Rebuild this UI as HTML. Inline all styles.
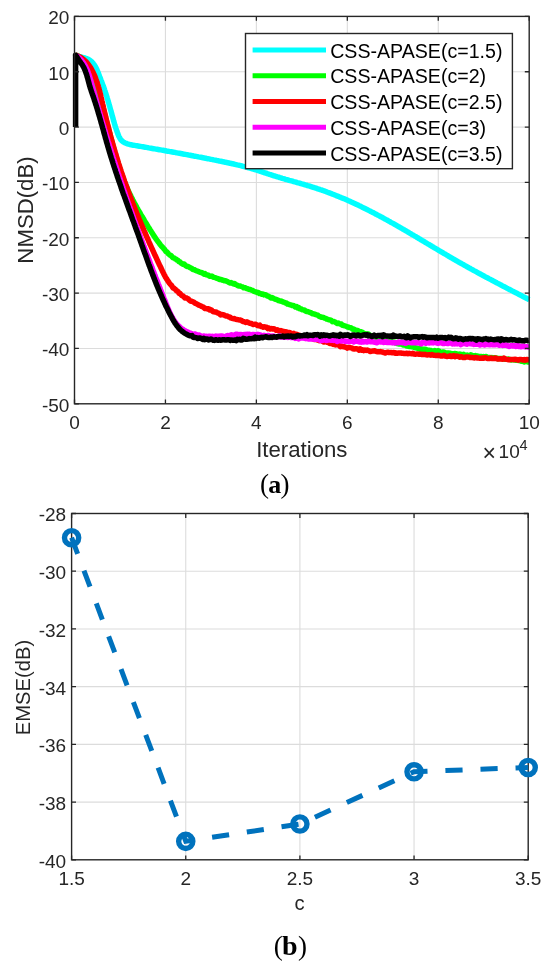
<!DOCTYPE html>
<html><head><meta charset="utf-8"><title>NMSD and EMSE plots</title>
<style>
html,body{margin:0;padding:0;background:#fff;width:550px;height:968px;overflow:hidden}
svg{display:block}
text{font-family:"Liberation Sans",Arial,sans-serif;fill:#262626}
.tk{font-size:19px}
.sup{font-size:14.5px}
.lbl{font-size:22.2px}
.lblb{font-size:20.2px}
.lg{font-size:19.6px;fill:#000}
.cap{font-family:"Liberation Serif","DejaVu Serif",serif;font-size:26px;fill:#000}
</style></head><body>
<svg width='550' height='968' viewBox='0 0 550 968'><defs><clipPath id='clipa'><rect x='74.5' y='16.4' width='454.70' height='387.40'/></clipPath></defs><g stroke="#dcdcdc" stroke-width="1.1"><line x1="165.44" y1="16.4" x2="165.44" y2="403.8"/><line x1="256.38" y1="16.4" x2="256.38" y2="403.8"/><line x1="347.32" y1="16.4" x2="347.32" y2="403.8"/><line x1="438.26" y1="16.4" x2="438.26" y2="403.8"/><line x1="74.5" y1="71.74" x2="529.2" y2="71.74"/><line x1="74.5" y1="127.09" x2="529.2" y2="127.09"/><line x1="74.5" y1="182.43" x2="529.2" y2="182.43"/><line x1="74.5" y1="237.77" x2="529.2" y2="237.77"/><line x1="74.5" y1="293.11" x2="529.2" y2="293.11"/><line x1="74.5" y1="348.46" x2="529.2" y2="348.46"/></g><g fill="none" stroke-width="5.5" stroke-linejoin="round" stroke-linecap="butt"><path d="M75.5 55.2L76.6 55.6L77.8 56.0L78.9 56.4L80.1 56.7L81.2 57.0L82.4 57.3L83.6 57.6L84.7 57.9L85.8 58.3L87.0 58.7L88.1 59.2L89.1 59.8L90.1 60.5L91.1 61.2L91.9 62.0L92.8 62.9L93.5 63.9L94.2 64.8L94.9 65.8L95.5 66.9L96.0 67.9L96.6 69.0L97.1 70.1L97.5 71.2L98.0 72.3L98.4 73.4L98.9 74.6L99.3 75.7L99.7 76.8L100.2 77.9L100.6 79.0L101.0 80.2L101.5 81.3L101.9 82.4L102.3 83.5L102.7 84.7L103.2 85.8L103.6 86.9L104.0 88.0L104.4 89.2L104.7 90.3L105.1 91.5L105.5 92.6L105.9 93.7L106.2 94.9L106.6 96.0L107.0 97.2L107.3 98.3L107.7 99.5L108.0 100.6L108.3 101.8L108.7 102.9L109.0 104.1L109.3 105.2L109.7 106.4L110.0 107.6L110.3 108.7L110.6 109.9L111.0 111.0L111.3 112.2L111.6 113.3L111.9 114.5L112.2 115.7L112.6 116.8L112.9 118.0L113.2 119.1L113.5 120.3L113.8 121.4L114.2 122.6L114.5 123.8L114.8 124.9L115.2 126.1L115.5 127.2L115.9 128.4L116.3 129.5L116.7 130.6L117.1 131.8L117.5 132.9L117.9 134.0L118.4 135.1L118.8 136.2L119.4 137.3L120.0 138.4L120.6 139.4L121.4 140.3L122.2 141.1L123.2 141.9L124.2 142.5L125.3 143.0L126.4 143.4L127.5 143.8L128.7 144.2L129.9 144.5L131.0 144.7L132.2 145.0L133.4 145.2L134.6 145.4L135.7 145.6L136.9 145.8L138.1 146.0L139.3 146.2L140.5 146.4L141.7 146.6L142.9 146.8L144.0 147.0L145.2 147.2L146.4 147.4L147.6 147.6L148.8 147.9L150.0 148.1L151.1 148.3L152.3 148.5L153.5 148.7L154.7 148.9L155.9 149.1L157.1 149.3L158.2 149.5L159.4 149.7L160.6 149.9L161.8 150.1L163.0 150.3L164.2 150.5L165.3 150.7L166.5 151.0L167.7 151.2L168.9 151.4L170.1 151.6L171.3 151.8L172.4 152.0L173.6 152.2L174.8 152.4L176.0 152.7L177.2 152.9L178.3 153.1L179.5 153.3L180.7 153.5L181.9 153.7L183.1 154.0L184.3 154.2L185.4 154.4L186.6 154.6L187.8 154.8L189.0 155.1L190.2 155.3L191.3 155.5L192.5 155.7L193.7 156.0L194.9 156.2L196.1 156.4L197.2 156.6L198.4 156.9L199.6 157.1L200.8 157.3L202.0 157.5L203.1 157.8L204.3 158.0L205.5 158.2L206.7 158.5L207.9 158.7L209.0 158.9L210.2 159.2L211.4 159.4L212.6 159.6L213.7 159.9L214.9 160.1L216.1 160.3L217.3 160.6L218.5 160.8L219.6 161.1L220.8 161.3L222.0 161.5L223.2 161.8L224.3 162.0L225.5 162.3L226.7 162.5L227.9 162.8L229.0 163.0L230.2 163.3L231.4 163.5L232.6 163.8L233.7 164.0L234.9 164.3L236.1 164.6L237.2 164.9L238.4 165.1L239.6 165.4L240.8 165.7L241.9 166.0L243.1 166.3L244.2 166.6L245.4 166.9L246.6 167.2L247.7 167.5L248.9 167.8L250.0 168.1L251.2 168.5L252.4 168.8L253.5 169.2L254.7 169.5L255.8 169.9L257.0 170.2L258.1 170.6L259.2 170.9L260.4 171.3L261.5 171.7L262.7 172.1L263.8 172.5L264.9 172.8L266.1 173.2L267.2 173.6L268.4 174.0L269.5 174.4L270.6 174.7L271.8 175.1L272.9 175.5L274.1 175.8L275.2 176.2L276.4 176.5L277.5 176.9L278.7 177.2L279.8 177.6L281.0 177.9L282.1 178.3L283.3 178.6L284.4 178.9L285.6 179.3L286.7 179.6L287.9 179.9L289.0 180.3L290.2 180.6L291.4 180.9L292.5 181.2L293.7 181.6L294.8 181.9L296.0 182.2L297.1 182.6L298.3 182.9L299.5 183.2L300.6 183.5L301.8 183.9L302.9 184.2L304.1 184.5L305.2 184.9L306.4 185.2L307.5 185.6L308.7 185.9L309.8 186.2L311.0 186.6L312.1 187.0L313.3 187.3L314.4 187.7L315.6 188.0L316.7 188.4L317.8 188.8L319.0 189.2L320.1 189.6L321.3 189.9L322.4 190.3L323.5 190.7L324.7 191.1L325.8 191.5L326.9 192.0L328.0 192.4L329.2 192.8L330.3 193.2L331.4 193.7L332.5 194.1L333.7 194.5L334.8 195.0L335.9 195.4L337.0 195.9L338.1 196.3L339.2 196.8L340.3 197.2L341.4 197.7L342.5 198.2L343.7 198.6L344.8 199.1L345.9 199.6L347.0 200.1L348.1 200.6L349.2 201.0L350.3 201.5L351.3 202.0L352.4 202.5L353.5 203.0L354.6 203.5L355.7 204.0L356.8 204.6L357.9 205.1L359.0 205.6L360.0 206.1L361.1 206.6L362.2 207.2L363.3 207.7L364.4 208.2L365.4 208.7L366.5 209.3L367.6 209.8L368.7 210.4L369.7 210.9L370.8 211.5L371.9 212.0L372.9 212.6L374.0 213.1L375.1 213.7L376.1 214.2L377.2 214.8L378.3 215.4L379.3 215.9L380.4 216.5L381.4 217.1L382.5 217.6L383.5 218.2L384.6 218.8L385.7 219.4L386.7 219.9L387.8 220.5L388.8 221.1L389.9 221.7L390.9 222.3L392.0 222.9L393.0 223.4L394.0 224.0L395.1 224.6L396.1 225.2L397.2 225.8L398.2 226.4L399.3 227.0L400.3 227.6L401.3 228.2L402.4 228.8L403.4 229.4L404.5 230.0L405.5 230.6L406.5 231.2L407.6 231.8L408.6 232.4L409.6 233.1L410.7 233.7L411.7 234.3L412.8 234.9L413.8 235.5L414.8 236.1L415.9 236.7L416.9 237.3L417.9 237.9L419.0 238.6L420.0 239.2L421.0 239.8L422.0 240.4L423.1 241.0L424.1 241.6L425.1 242.3L426.2 242.9L427.2 243.5L428.2 244.1L429.3 244.7L430.3 245.3L431.3 245.9L432.4 246.6L433.4 247.2L434.4 247.8L435.5 248.4L436.5 249.0L437.5 249.6L438.6 250.3L439.6 250.9L440.6 251.5L441.7 252.1L442.7 252.7L443.7 253.3L444.8 253.9L445.8 254.5L446.8 255.1L447.9 255.7L448.9 256.4L449.9 257.0L451.0 257.6L452.0 258.2L453.1 258.8L454.1 259.4L455.1 260.0L456.2 260.6L457.2 261.2L458.3 261.8L459.3 262.4L460.4 263.0L461.4 263.5L462.4 264.1L463.5 264.7L464.5 265.3L465.6 265.9L466.6 266.5L467.7 267.1L468.7 267.7L469.8 268.2L470.8 268.8L471.9 269.4L472.9 270.0L474.0 270.6L475.0 271.1L476.1 271.7L477.2 272.3L478.2 272.9L479.3 273.5L480.3 274.0L481.4 274.6L482.4 275.2L483.5 275.7L484.5 276.3L485.6 276.9L486.7 277.4L487.7 278.0L488.8 278.6L489.8 279.1L490.9 279.7L492.0 280.3L493.0 280.8L494.1 281.4L495.1 282.0L496.2 282.5L497.3 283.1L498.3 283.6L499.4 284.2L500.5 284.8L501.5 285.3L502.6 285.9L503.7 286.4L504.7 287.0L505.8 287.5L506.8 288.1L507.9 288.7L509.0 289.2L510.0 289.8L511.1 290.3L512.2 290.9L513.2 291.4L514.3 292.0L515.4 292.5L516.4 293.1L517.5 293.6L518.6 294.2L519.6 294.7L520.7 295.3L521.8 295.8L522.8 296.4L523.9 296.9L525.0 297.5L526.0 298.0L527.1 298.6L528.2 299.2L529.3 299.7" stroke="#00ffff"/><path d="M75.5 55.2L76.7 55.5L77.8 55.9L78.9 56.5L79.9 57.1L80.9 57.8L81.8 58.5L82.7 59.3L83.6 60.1L84.5 60.9L85.4 61.7L86.2 62.6L87.1 63.5L87.8 64.4L88.5 65.4L89.2 66.4L89.7 67.4L90.3 68.5L90.7 69.6L91.2 70.8L91.6 71.9L91.9 73.0L92.3 74.2L92.7 75.3L93.0 76.5L93.4 77.6L93.7 78.8L94.1 79.9L94.4 81.1L94.8 82.2L95.2 83.4L95.5 84.5L95.9 85.6L96.3 86.8L96.6 87.9L97.0 89.1L97.4 90.2L97.7 91.4L98.1 92.5L98.5 93.7L98.8 94.8L99.2 96.0L99.6 97.1L99.9 98.2L100.3 99.4L100.6 100.5L101.0 101.7L101.4 102.8L101.7 104.0L102.0 105.1L102.4 106.3L102.7 107.4L103.1 108.6L103.4 109.8L103.7 110.9L104.1 112.1L104.4 113.2L104.7 114.4L105.0 115.5L105.3 116.7L105.7 117.9L106.0 119.0L106.3 120.2L106.6 121.3L106.9 122.5L107.2 123.7L107.5 124.8L107.8 126.0L108.1 127.2L108.4 128.3L108.7 129.5L109.0 130.6L109.3 131.8L109.7 133.0L110.0 134.1L110.3 135.3L110.6 136.5L110.9 137.6L111.2 138.8L111.5 139.9L111.8 141.1L112.1 142.3L112.4 143.4L112.7 144.6L113.0 145.8L113.3 146.9L113.7 148.1L114.0 149.2L114.3 150.4L114.6 151.5L114.9 152.7L115.3 153.9L115.6 155.0L115.9 156.2L116.3 157.3L116.6 158.5L116.9 159.6L117.3 160.8L117.6 161.9L118.0 163.1L118.4 164.2L118.7 165.4L119.1 166.5L119.5 167.7L119.8 168.8L120.2 169.9L120.6 171.1L121.0 172.2L121.4 173.4L121.8 174.5L122.2 175.6L122.6 176.8L123.0 177.9L123.4 179.0L123.9 180.1L124.3 181.3L124.7 182.4L125.2 183.5L125.6 184.6L126.1 185.7L126.6 186.8L127.1 187.9L127.5 189.0L128.0 190.1L128.5 191.2L129.0 192.3L129.5 193.4L130.1 194.5L130.6 195.6L131.1 196.6L131.7 197.7L132.2 198.8L132.7 199.8L133.3 200.9L133.9 202.0L134.4 203.0L135.0 204.1L135.6 205.2L136.2 206.2L136.7 207.3L137.3 208.3L137.9 209.4L138.5 210.4L139.1 211.4L139.7 212.5L140.3 213.5L140.9 214.6L141.5 215.6L142.1 216.6L142.8 217.7L143.4 218.7L144.0 219.7L144.6 220.8L145.2 221.8L145.8 222.8L146.5 223.8L147.1 224.9L147.7 225.9L148.3 226.9L149.0 228.0L149.6 229.0L150.2 230.0L150.9 231.0L151.5 232.0L152.2 233.1L152.8 234.1L153.5 235.1L154.1 236.1L154.8 237.1L155.5 238.1L156.1 239.1L156.8 240.0L157.5 241.0L158.3 242.0L159.0 242.9L159.7 243.9L160.4 244.9L161.2 245.9L162.0 246.6L162.7 247.4L163.5 248.4L164.3 249.1L165.1 250.3L166.0 251.6L166.8 251.9L167.7 252.7L168.5 253.9L169.4 254.6L170.3 255.3L171.3 255.8L172.2 256.8L173.1 257.8L174.1 257.9L175.1 258.9L176.0 259.2L177.0 260.0L178.0 260.5L179.0 261.7L180.0 262.0L181.1 263.1L182.1 263.7L183.1 264.2L184.2 264.1L185.2 265.2L186.3 266.0L187.4 266.6L188.4 266.6L189.5 267.4L190.6 267.8L191.7 268.4L192.8 269.4L193.9 269.4L195.0 270.1L196.1 270.8L197.2 270.9L198.3 271.4L199.4 272.0L200.5 272.4L201.7 272.4L202.8 273.3L203.9 274.1L205.0 273.6L206.2 274.8L207.3 274.9L208.4 275.1L209.6 276.3L210.7 276.3L211.8 276.1L213.0 276.9L214.1 277.4L215.3 277.6L216.4 278.3L217.5 278.4L218.7 279.0L219.8 279.6L221.0 279.4L222.1 280.0L223.2 280.2L224.4 280.8L225.5 280.7L226.7 281.3L227.8 281.8L228.9 282.5L230.1 283.0L231.2 282.6L232.3 283.2L233.5 284.0L234.6 283.6L235.7 284.5L236.9 285.0L238.0 285.8L239.2 286.0L240.3 286.1L241.4 286.5L242.6 286.9L243.7 287.8L244.8 287.7L245.9 288.1L247.1 288.7L248.2 289.0L249.3 289.4L250.5 289.5L251.6 290.2L252.7 290.5L253.9 291.4L255.0 291.7L256.1 291.9L257.2 292.5L258.4 292.6L259.5 293.5L260.6 293.6L261.8 294.2L262.9 294.0L264.0 294.9L265.1 294.7L266.3 295.1L267.4 296.0L268.5 296.2L269.6 297.0L270.8 298.0L271.9 297.5L273.0 298.0L274.1 298.7L275.3 299.2L276.4 299.4L277.5 299.9L278.6 300.6L279.7 300.9L280.9 300.9L282.0 301.6L283.1 302.1L284.2 302.2L285.4 303.0L286.5 303.1L287.6 304.1L288.7 304.3L289.8 304.7L291.0 304.9L292.1 305.5L293.2 305.4L294.3 306.1L295.4 307.0L296.6 306.6L297.7 308.0L298.8 307.6L299.9 308.8L301.0 308.8L302.2 309.7L303.3 309.9L304.4 309.9L305.5 311.1L306.6 311.6L307.8 311.6L308.9 312.0L310.0 312.5L311.1 312.7L312.2 313.7L313.4 313.7L314.5 314.2L315.6 314.5L316.7 314.9L317.8 315.2L319.0 316.4L320.1 316.4L321.2 317.2L322.3 317.3L323.5 317.5L324.6 318.1L325.7 318.4L326.8 319.1L327.9 319.4L329.1 319.8L330.2 319.9L331.3 320.5L332.4 321.7L333.5 321.4L334.7 321.8L335.8 322.6L336.9 323.4L338.0 322.9L339.2 323.7L340.3 324.0L341.4 324.1L342.5 325.3L343.7 325.5L344.8 325.9L345.9 326.1L347.0 326.9L348.2 327.0L349.3 327.6L350.4 327.7L351.5 328.1L352.7 329.3L353.8 329.1L354.9 329.8L356.0 330.1L357.2 330.4L358.3 330.8L359.4 331.5L360.6 331.7L361.7 332.1L362.8 332.6L364.0 333.3L365.1 333.6L366.2 333.9L367.4 334.0L368.5 334.1L369.6 335.2L370.8 335.6L371.9 335.7L373.1 336.3L374.2 336.7L375.3 337.1L376.5 337.5L377.6 337.5L378.8 338.4L379.9 338.0L381.1 339.0L382.2 339.2L383.4 339.7L384.5 340.3L385.6 340.6L386.8 340.1L388.0 340.3L389.1 341.4L390.3 341.2L391.4 341.8L392.6 342.4L393.7 342.0L394.9 342.2L396.0 343.2L397.2 343.5L398.4 343.7L399.5 344.1L400.7 344.1L401.9 344.2L403.0 344.9L404.2 345.0L405.4 345.0L406.5 346.0L407.7 346.1L408.9 346.5L410.0 346.3L411.2 346.7L412.4 346.8L413.6 347.1L414.7 347.7L415.9 347.7L417.1 348.2L418.3 348.5L419.5 349.2L420.6 348.4L421.8 349.3L423.0 349.2L424.2 349.5L425.4 349.2L426.5 349.7L427.7 350.3L428.9 350.2L430.1 350.5L431.3 350.6L432.5 351.2L433.7 351.0L434.9 350.5L436.0 351.2L437.2 351.0L438.4 350.7L439.6 351.7L440.8 352.5L442.0 352.2L443.2 352.0L444.4 352.2L445.6 353.0L446.8 352.9L448.0 353.0L449.2 353.1L450.3 353.3L451.5 353.7L452.7 353.7L453.9 353.8L455.1 353.5L456.3 354.1L457.5 353.9L458.7 354.6L459.9 354.0L461.1 354.4L462.3 354.6L463.5 354.3L464.7 355.4L465.9 355.4L467.1 355.0L468.3 355.5L469.5 355.5L470.7 354.7L471.9 355.7L473.1 355.7L474.3 355.9L475.4 355.6L476.6 356.0L477.8 356.1L479.0 356.7L480.2 356.5L481.4 356.5L482.6 357.1L483.8 356.6L485.0 356.8L486.2 356.5L487.4 357.6L488.6 357.5L489.8 357.6L491.0 357.7L492.2 357.6L493.4 357.8L494.6 357.8L495.8 357.9L497.0 358.1L498.2 358.7L499.4 358.5L500.6 358.5L501.8 358.4L503.0 358.5L504.2 359.3L505.3 359.1L506.5 359.2L507.7 359.2L508.9 359.1L510.1 359.5L511.3 360.0L512.5 359.7L513.7 359.9L514.9 360.1L516.1 360.3L517.3 360.0L518.5 360.5L519.7 360.5L520.9 361.2L522.0 360.9L523.2 361.4L524.4 361.9L525.6 361.5L526.8 361.6L528.0 362.0L529.2 362.2" stroke="#00ff00"/><path d="M75.4 55.2L76.6 55.5L77.7 56.0L78.8 56.5L79.9 57.0L80.9 57.6L81.9 58.3L82.9 59.0L83.8 59.7L84.7 60.5L85.6 61.3L86.4 62.2L87.2 63.1L88.0 64.0L88.7 65.0L89.4 66.0L90.1 67.0L90.7 68.0L91.3 69.0L91.9 70.1L92.4 71.2L93.0 72.2L93.5 73.3L94.0 74.4L94.5 75.5L94.9 76.6L95.4 77.7L95.8 78.9L96.2 80.0L96.6 81.1L97.0 82.3L97.4 83.4L97.7 84.5L98.1 85.7L98.4 86.8L98.8 88.0L99.1 89.1L99.4 90.3L99.7 91.5L100.0 92.6L100.3 93.8L100.6 95.0L100.9 96.1L101.1 97.3L101.4 98.5L101.7 99.6L101.9 100.8L102.2 102.0L102.5 103.2L102.7 104.3L103.0 105.5L103.3 106.7L103.5 107.8L103.8 109.0L104.1 110.2L104.3 111.4L104.6 112.5L104.9 113.7L105.2 114.9L105.5 116.0L105.7 117.2L106.0 118.4L106.3 119.5L106.6 120.7L106.9 121.9L107.2 123.0L107.5 124.2L107.8 125.4L108.1 126.5L108.4 127.7L108.7 128.8L109.0 130.0L109.3 131.2L109.6 132.3L109.9 133.5L110.2 134.6L110.5 135.8L110.8 137.0L111.2 138.1L111.5 139.3L111.8 140.4L112.1 141.6L112.4 142.7L112.8 143.9L113.1 145.1L113.4 146.2L113.8 147.4L114.1 148.5L114.4 149.7L114.8 150.8L115.1 152.0L115.5 153.1L115.8 154.3L116.2 155.4L116.5 156.6L116.9 157.7L117.2 158.9L117.6 160.0L117.9 161.2L118.3 162.3L118.6 163.5L119.0 164.6L119.4 165.7L119.7 166.9L120.1 168.0L120.5 169.2L120.9 170.3L121.2 171.5L121.6 172.6L122.0 173.7L122.4 174.9L122.8 176.0L123.2 177.1L123.6 178.3L123.9 179.4L124.3 180.5L124.7 181.7L125.1 182.8L125.5 183.9L125.9 185.1L126.4 186.2L126.8 187.3L127.2 188.5L127.6 189.6L128.0 190.7L128.4 191.8L128.8 193.0L129.3 194.1L129.7 195.2L130.1 196.3L130.5 197.5L131.0 198.6L131.4 199.7L131.8 200.8L132.3 201.9L132.7 203.1L133.1 204.2L133.6 205.3L134.0 206.4L134.4 207.5L134.9 208.6L135.3 209.8L135.8 210.9L136.2 212.0L136.7 213.1L137.1 214.2L137.6 215.3L138.1 216.4L138.5 217.5L139.0 218.7L139.4 219.8L139.9 220.9L140.4 222.0L140.8 223.1L141.3 224.2L141.8 225.3L142.2 226.4L142.7 227.5L143.2 228.6L143.7 229.7L144.1 230.8L144.6 231.9L145.1 233.0L145.6 234.1L146.0 235.2L146.5 236.3L147.0 237.4L147.5 238.5L148.0 239.6L148.5 240.7L148.9 241.8L149.4 242.9L149.9 244.0L150.4 245.1L150.9 246.2L151.4 247.3L151.9 248.4L152.4 249.5L152.9 250.6L153.4 251.7L153.9 252.8L154.4 253.9L154.9 255.0L155.4 256.0L155.9 257.1L156.4 258.2L156.9 259.3L157.4 260.4L157.9 261.5L158.4 262.6L158.9 263.7L159.4 264.8L160.0 265.8L160.5 266.9L161.0 268.0L161.5 269.1L162.0 270.2L162.5 271.3L163.0 272.3L163.6 273.4L164.1 274.5L164.7 275.6L165.2 276.6L165.8 277.7L166.4 278.7L167.1 279.7L167.7 280.7L168.4 281.7L169.1 282.7L169.8 283.6L170.6 284.6L171.4 285.2L172.2 286.6L173.0 288.0L173.8 288.1L174.7 288.9L175.5 289.5L176.4 290.8L177.3 291.0L178.2 291.8L179.1 293.4L180.1 293.4L181.0 294.8L182.0 295.7L183.0 296.0L184.0 296.8L184.9 297.9L186.0 297.8L187.0 298.3L188.0 298.7L189.0 299.8L190.1 300.9L191.1 301.3L192.1 301.3L193.2 301.9L194.3 302.5L195.3 303.4L196.4 303.7L197.5 304.4L198.6 305.0L199.6 305.3L200.7 305.9L201.8 306.5L202.9 306.9L204.0 307.6L205.1 308.6L206.2 308.6L207.3 308.9L208.4 308.7L209.5 309.9L210.6 309.6L211.7 310.2L212.8 311.5L214.0 311.8L215.1 312.0L216.2 311.9L217.3 312.8L218.4 313.1L219.6 313.9L220.7 314.9L221.8 314.6L223.0 314.7L224.1 314.9L225.2 315.7L226.4 316.1L227.5 316.1L228.6 316.9L229.8 316.9L230.9 318.0L232.1 318.4L233.2 318.7L234.4 318.6L235.5 319.3L236.7 319.4L237.8 319.6L239.0 320.0L240.1 320.0L241.3 320.3L242.4 321.4L243.6 321.4L244.7 321.9L245.9 322.5L247.0 321.8L248.2 322.5L249.4 323.1L250.5 323.5L251.7 323.6L252.8 324.4L254.0 324.4L255.2 324.2L256.3 324.6L257.5 325.5L258.6 325.7L259.8 325.1L261.0 326.6L262.1 326.6L263.3 327.2L264.5 326.8L265.6 327.2L266.8 327.2L268.0 328.7L269.1 328.1L270.3 329.0L271.5 328.5L272.6 329.0L273.8 328.7L275.0 329.4L276.1 330.2L277.3 329.7L278.5 330.7L279.6 330.8L280.8 330.6L282.0 331.0L283.2 331.3L284.3 331.7L285.5 331.8L286.7 332.0L287.8 332.5L289.0 332.5L290.2 332.7L291.3 333.4L292.5 334.0L293.7 333.4L294.8 334.3L296.0 334.3L297.2 334.5L298.3 335.4L299.5 335.2L300.7 336.2L301.8 335.7L303.0 336.4L304.2 336.5L305.3 336.6L306.5 337.3L307.7 337.4L308.8 338.0L310.0 338.0L311.1 338.0L312.3 338.6L313.5 339.0L314.6 339.6L315.8 339.3L317.0 339.9L318.1 339.6L319.3 340.7L320.4 340.4L321.6 340.5L322.7 341.4L323.9 342.1L325.1 341.5L326.2 342.0L327.4 342.4L328.5 342.6L329.7 343.4L330.9 343.3L332.0 343.7L333.2 344.4L334.4 344.2L335.5 344.9L336.7 344.7L337.9 344.9L339.0 345.0L340.2 346.6L341.4 346.1L342.5 346.5L343.7 346.7L344.9 347.0L346.1 347.3L347.2 348.1L348.4 347.4L349.6 347.4L350.8 347.8L351.9 347.9L353.1 348.9L354.3 349.1L355.5 348.7L356.7 348.7L357.9 349.3L359.1 350.1L360.2 348.8L361.4 350.1L362.6 349.7L363.8 350.6L365.0 350.0L366.2 350.4L367.4 350.1L368.6 350.5L369.8 351.4L371.0 351.4L372.2 351.1L373.4 351.0L374.6 350.8L375.8 351.4L376.9 351.7L378.1 351.7L379.3 351.8L380.5 351.6L381.7 352.0L382.9 352.1L384.1 352.7L385.3 353.0L386.5 352.4L387.7 352.2L388.9 352.6L390.1 352.5L391.3 352.5L392.5 352.8L393.7 352.5L394.9 353.2L396.1 353.0L397.3 353.2L398.5 353.1L399.7 353.0L400.9 353.0L402.1 353.3L403.3 353.3L404.5 353.6L405.7 353.6L406.9 353.2L408.1 353.7L409.3 353.3L410.5 353.6L411.7 353.8L412.9 353.3L414.1 354.1L415.3 354.2L416.5 354.1L417.7 354.1L418.9 354.2L420.1 354.1L421.3 354.4L422.5 354.3L423.7 354.6L424.9 354.3L426.1 354.8L427.3 354.9L428.5 354.8L429.7 354.8L430.9 355.2L432.1 354.5L433.3 355.3L434.5 355.3L435.7 355.4L436.9 355.5L438.1 355.3L439.3 355.5L440.5 355.9L441.7 355.9L442.9 355.9L444.1 355.3L445.3 356.1L446.5 356.4L447.7 356.4L448.9 356.2L450.1 355.7L451.3 356.6L452.5 356.3L453.7 355.6L454.9 356.6L456.1 356.1L457.3 356.2L458.5 356.5L459.6 357.2L460.8 356.7L462.0 357.0L463.2 357.6L464.4 357.6L465.6 357.1L466.8 357.1L468.0 356.9L469.2 357.1L470.4 357.6L471.6 357.6L472.8 357.6L474.0 358.0L475.2 357.4L476.4 357.7L477.6 358.1L478.8 358.1L480.0 358.3L481.2 358.2L482.4 358.0L483.6 358.3L484.8 357.8L486.0 357.7L487.2 358.5L488.4 358.4L489.6 358.5L490.8 357.9L492.0 358.4L493.2 358.4L494.4 358.4L495.6 357.9L496.8 358.6L498.0 359.1L499.2 359.0L500.4 358.7L501.6 359.0L502.8 359.3L504.0 358.1L505.2 359.1L506.4 359.3L507.6 359.4L508.8 359.8L510.0 359.7L511.2 359.4L512.4 359.4L513.6 359.7L514.8 359.2L516.0 359.4L517.2 359.8L518.4 360.2L519.6 359.5L520.8 359.6L522.0 359.7L523.2 360.1L524.4 359.6L525.6 360.2L526.8 359.4L528.0 359.7L529.2 359.7" stroke="#ff0000"/><path d="M75.5 55.1L76.5 55.8L77.5 56.5L78.4 57.2L79.3 58.0L80.2 58.9L81.0 59.8L81.8 60.7L82.5 61.6L83.2 62.6L83.9 63.6L84.5 64.6L85.1 65.7L85.7 66.7L86.2 67.8L86.7 68.9L87.2 70.0L87.7 71.1L88.1 72.2L88.5 73.4L88.9 74.5L89.3 75.6L89.6 76.8L90.0 77.9L90.3 79.1L90.7 80.2L91.0 81.4L91.3 82.6L91.6 83.7L91.9 84.9L92.2 86.0L92.5 87.2L92.9 88.4L93.2 89.5L93.5 90.7L93.8 91.8L94.1 93.0L94.4 94.2L94.8 95.3L95.1 96.5L95.4 97.6L95.7 98.8L96.1 99.9L96.4 101.1L96.7 102.3L97.0 103.4L97.3 104.6L97.7 105.7L98.0 106.9L98.3 108.0L98.7 109.2L99.0 110.4L99.3 111.5L99.6 112.7L100.0 113.8L100.3 115.0L100.6 116.1L101.0 117.3L101.3 118.4L101.6 119.6L102.0 120.7L102.3 121.9L102.6 123.1L103.0 124.2L103.3 125.4L103.7 126.5L104.0 127.7L104.3 128.8L104.7 130.0L105.0 131.1L105.4 132.3L105.7 133.4L106.0 134.6L106.4 135.7L106.7 136.9L107.1 138.0L107.4 139.2L107.8 140.3L108.1 141.5L108.5 142.6L108.8 143.8L109.2 144.9L109.5 146.1L109.9 147.2L110.2 148.4L110.6 149.5L111.0 150.7L111.3 151.8L111.7 153.0L112.0 154.1L112.4 155.3L112.7 156.4L113.1 157.6L113.5 158.7L113.8 159.8L114.2 161.0L114.6 162.1L114.9 163.3L115.3 164.4L115.7 165.6L116.0 166.7L116.4 167.8L116.8 169.0L117.2 170.1L117.5 171.3L117.9 172.4L118.3 173.6L118.7 174.7L119.0 175.8L119.4 177.0L119.8 178.1L120.2 179.3L120.5 180.4L120.9 181.5L121.3 182.7L121.7 183.8L122.1 185.0L122.5 186.1L122.8 187.2L123.2 188.4L123.6 189.5L124.0 190.7L124.4 191.8L124.8 192.9L125.2 194.1L125.6 195.2L125.9 196.3L126.3 197.5L126.7 198.6L127.1 199.7L127.5 200.9L127.9 202.0L128.3 203.1L128.7 204.3L129.1 205.4L129.5 206.6L129.9 207.7L130.3 208.8L130.7 210.0L131.1 211.1L131.5 212.2L131.9 213.3L132.3 214.5L132.7 215.6L133.1 216.7L133.5 217.9L133.9 219.0L134.3 220.1L134.7 221.3L135.1 222.4L135.6 223.5L136.0 224.7L136.4 225.8L136.8 226.9L137.2 228.0L137.6 229.2L138.0 230.3L138.4 231.4L138.8 232.6L139.3 233.7L139.7 234.8L140.1 235.9L140.5 237.1L140.9 238.2L141.3 239.3L141.7 240.5L142.2 241.6L142.6 242.7L143.0 243.8L143.4 245.0L143.8 246.1L144.3 247.2L144.7 248.3L145.1 249.5L145.5 250.6L146.0 251.7L146.4 252.8L146.8 254.0L147.2 255.1L147.7 256.2L148.1 257.3L148.5 258.5L148.9 259.6L149.4 260.7L149.8 261.8L150.2 262.9L150.6 264.1L151.1 265.2L151.5 266.3L151.9 267.4L152.4 268.6L152.8 269.7L153.2 270.8L153.7 271.9L154.1 273.0L154.5 274.2L155.0 275.3L155.4 276.4L155.8 277.5L156.3 278.7L156.7 279.8L157.1 280.9L157.6 282.0L158.0 283.1L158.4 284.2L158.9 285.4L159.3 286.5L159.7 287.6L160.2 288.7L160.6 289.8L161.1 291.0L161.5 292.1L161.9 293.2L162.4 294.3L162.8 295.4L163.3 296.6L163.7 297.7L164.1 298.8L164.6 299.9L165.0 301.0L165.5 302.1L165.9 303.3L166.4 304.4L166.8 305.5L167.2 306.6L167.7 307.7L168.2 308.8L168.6 309.9L169.1 311.0L169.6 312.1L170.1 313.2L170.6 314.3L171.2 315.4L171.7 316.4L172.3 317.5L172.9 318.5L173.5 319.6L174.2 320.6L174.9 321.6L175.6 322.5L176.3 323.5L177.1 324.4L177.9 325.3L178.8 326.1L179.7 326.9L180.6 327.7L181.5 328.5L182.5 329.1L183.5 329.8L184.5 330.4L185.6 331.0L186.6 331.6L187.7 332.1L188.8 332.6L190.0 333.0L191.1 333.3L192.2 334.1L193.4 334.6L194.5 333.9L195.7 334.4L196.9 335.2L198.0 335.1L199.2 334.9L200.4 336.2L201.6 336.1L202.8 336.3L204.0 336.0L205.2 336.7L206.4 336.3L207.6 336.9L208.8 336.2L210.0 336.2L211.2 336.7L212.4 336.3L213.6 336.8L214.8 336.6L216.0 336.1L217.2 336.4L218.4 336.2L219.6 336.6L220.8 335.9L222.0 335.9L223.2 336.5L224.4 336.8L225.6 336.6L226.8 335.7L227.9 335.6L229.1 336.1L230.3 335.3L231.5 334.8L232.7 335.2L233.9 335.2L235.1 334.6L236.3 334.2L237.5 334.2L238.7 335.0L239.9 334.4L241.1 334.6L242.3 334.7L243.5 334.8L244.7 334.4L245.9 334.8L247.1 334.2L248.3 334.4L249.5 334.2L250.7 335.1L251.9 334.7L253.1 334.4L254.3 334.6L255.5 334.7L256.7 335.2L257.9 334.3L259.1 334.6L260.3 334.9L261.5 336.2L262.7 335.6L263.9 335.3L265.1 335.7L266.3 336.4L267.5 335.5L268.7 335.6L269.9 336.3L271.1 336.1L272.3 336.3L273.5 335.9L274.7 337.0L275.9 337.0L277.1 336.7L278.3 336.8L279.5 335.8L280.7 337.0L281.9 336.7L283.1 337.1L284.3 337.3L285.5 337.0L286.7 336.5L287.9 337.5L289.1 337.1L290.3 337.4L291.5 337.3L292.7 337.5L293.9 336.8L295.1 338.4L296.3 338.1L297.5 338.5L298.7 338.9L299.9 338.2L301.1 337.6L302.3 338.0L303.5 338.0L304.7 338.4L305.9 338.7L307.1 338.0L308.3 339.0L309.5 338.3L310.7 339.1L311.9 339.0L313.1 339.0L314.3 339.2L315.5 339.1L316.7 339.2L317.9 338.8L319.1 339.6L320.3 340.4L321.5 340.5L322.7 340.3L323.9 340.1L325.1 339.7L326.3 340.6L327.5 340.1L328.7 340.1L329.9 340.1L331.1 340.3L332.3 340.2L333.5 340.4L334.7 340.1L335.9 340.4L337.1 341.5L338.3 340.7L339.5 340.6L340.7 341.0L341.9 341.1L343.1 340.5L344.3 340.9L345.5 341.4L346.7 341.2L347.9 341.2L349.1 341.8L350.3 341.0L351.5 341.3L352.7 341.1L353.9 342.0L355.1 340.7L356.3 341.2L357.5 341.3L358.7 341.8L359.9 341.9L361.1 342.2L362.3 341.1L363.5 342.0L364.7 341.7L365.9 341.5L367.1 342.1L368.3 341.5L369.5 341.1L370.7 341.8L371.9 341.4L373.1 341.8L374.3 342.2L375.5 342.2L376.7 342.8L377.9 342.1L379.1 341.6L380.3 341.9L381.5 341.9L382.7 341.8L383.9 342.5L385.1 342.1L386.3 341.5L387.5 342.6L388.7 342.3L389.9 342.5L391.1 342.5L392.3 342.7L393.5 342.5L394.7 343.0L395.9 342.7L397.1 342.7L398.3 342.7L399.5 342.0L400.7 342.5L401.9 342.5L403.1 342.7L404.3 342.1L405.5 343.3L406.7 342.7L407.9 342.2L409.1 342.0L410.3 342.6L411.5 342.7L412.7 342.5L413.9 342.8L415.1 342.6L416.3 343.0L417.5 342.6L418.7 342.8L419.9 343.3L421.1 343.9L422.3 342.5L423.5 342.7L424.7 342.6L425.9 343.3L427.1 342.5L428.3 342.8L429.5 343.0L430.7 342.6L431.9 342.7L433.1 342.9L434.3 342.2L435.5 342.5L436.7 343.0L438.0 343.2L439.2 343.1L440.4 342.5L441.6 343.0L442.8 343.5L444.0 343.5L445.2 343.2L446.4 342.9L447.6 343.6L448.8 343.1L450.0 342.9L451.2 343.0L452.4 344.0L453.6 343.5L454.8 343.9L456.0 343.3L457.2 343.9L458.4 343.3L459.6 343.5L460.8 344.6L462.0 343.9L463.2 343.4L464.4 343.6L465.6 343.8L466.8 344.2L468.0 343.6L469.2 343.1L470.4 343.7L471.6 343.9L472.8 343.9L474.0 344.4L475.2 344.1L476.4 344.3L477.6 343.6L478.8 344.4L480.0 345.0L481.2 344.5L482.4 344.3L483.6 344.3L484.8 345.0L486.0 344.0L487.2 344.3L488.4 344.6L489.6 344.8L490.8 344.4L492.0 344.7L493.2 344.5L494.4 344.7L495.6 344.7L496.8 344.3L498.0 344.8L499.2 345.3L500.4 344.6L501.6 344.9L502.8 345.4L504.0 344.7L505.2 345.3L506.4 344.9L507.6 345.8L508.8 346.4L510.0 346.3L511.2 345.5L512.4 345.9L513.6 345.8L514.8 345.8L516.0 346.5L517.2 345.4L518.4 346.5L519.6 346.1L520.8 346.8L522.0 346.4L523.2 346.1L524.4 346.6L525.6 346.9L526.8 346.7L528.0 347.0L529.2 346.9" stroke="#ff00ff"/><path d="M75.6 127.1L75.6 55.2L75.5 55.2L76.3 56.1L76.9 57.1L77.6 58.2L78.2 59.2L78.9 60.2L79.6 61.1L80.3 62.1L81.0 63.1L81.7 64.0L82.4 65.0L83.0 66.1L83.6 67.1L84.1 68.2L84.6 69.3L85.1 70.4L85.5 71.5L85.9 72.7L86.3 73.8L86.7 74.9L87.0 76.1L87.3 77.2L87.7 78.4L88.0 79.6L88.3 80.7L88.6 81.9L88.9 83.0L89.2 84.2L89.5 85.4L89.9 86.5L90.2 87.7L90.6 88.8L91.0 90.0L91.3 91.1L91.7 92.2L92.1 93.4L92.5 94.5L92.9 95.6L93.3 96.8L93.7 97.9L94.1 99.1L94.4 100.2L94.8 101.3L95.2 102.5L95.5 103.6L95.9 104.8L96.3 105.9L96.6 107.1L97.0 108.2L97.3 109.4L97.7 110.5L98.0 111.7L98.3 112.8L98.7 114.0L99.0 115.1L99.4 116.3L99.7 117.4L100.0 118.6L100.4 119.7L100.7 120.9L101.0 122.1L101.3 123.2L101.7 124.4L102.0 125.5L102.3 126.7L102.6 127.8L103.0 129.0L103.3 130.2L103.6 131.3L103.9 132.5L104.2 133.6L104.6 134.8L104.9 135.9L105.2 137.1L105.5 138.3L105.9 139.4L106.2 140.6L106.5 141.7L106.8 142.9L107.2 144.0L107.5 145.2L107.8 146.3L108.2 147.5L108.5 148.7L108.9 149.8L109.2 151.0L109.5 152.1L109.9 153.3L110.2 154.4L110.6 155.6L110.9 156.7L111.3 157.9L111.7 159.0L112.0 160.1L112.4 161.3L112.7 162.4L113.1 163.6L113.5 164.7L113.8 165.9L114.2 167.0L114.6 168.2L115.0 169.3L115.3 170.4L115.7 171.6L116.1 172.7L116.5 173.9L116.9 175.0L117.2 176.1L117.6 177.3L118.0 178.4L118.4 179.6L118.8 180.7L119.2 181.8L119.6 183.0L120.0 184.1L120.4 185.2L120.8 186.4L121.1 187.5L121.5 188.6L121.9 189.8L122.3 190.9L122.7 192.0L123.1 193.2L123.5 194.3L124.0 195.4L124.4 196.6L124.8 197.7L125.2 198.8L125.6 200.0L126.0 201.1L126.4 202.2L126.8 203.3L127.2 204.5L127.6 205.6L128.0 206.7L128.4 207.9L128.8 209.0L129.2 210.1L129.7 211.3L130.1 212.4L130.5 213.5L130.9 214.6L131.3 215.8L131.7 216.9L132.1 218.0L132.5 219.2L132.9 220.3L133.4 221.4L133.8 222.5L134.2 223.7L134.6 224.8L135.0 225.9L135.4 227.1L135.8 228.2L136.2 229.3L136.6 230.5L137.1 231.6L137.5 232.7L137.9 233.8L138.3 235.0L138.7 236.1L139.1 237.2L139.5 238.4L139.9 239.5L140.3 240.6L140.7 241.8L141.1 242.9L141.5 244.0L141.9 245.2L142.3 246.3L142.7 247.4L143.1 248.5L143.5 249.7L143.9 250.8L144.3 251.9L144.7 253.1L145.2 254.2L145.6 255.3L146.0 256.5L146.4 257.6L146.8 258.7L147.2 259.9L147.6 261.0L148.0 262.1L148.4 263.2L148.8 264.4L149.2 265.5L149.7 266.6L150.1 267.8L150.5 268.9L150.9 270.0L151.3 271.1L151.8 272.3L152.2 273.4L152.6 274.5L153.0 275.6L153.5 276.7L153.9 277.9L154.4 279.0L154.8 280.1L155.2 281.2L155.7 282.3L156.1 283.5L156.6 284.6L157.0 285.7L157.5 286.8L157.9 287.9L158.4 289.0L158.9 290.1L159.3 291.2L159.8 292.3L160.3 293.4L160.8 294.5L161.2 295.6L161.7 296.7L162.2 297.8L162.7 298.9L163.2 300.0L163.7 301.1L164.2 302.2L164.7 303.3L165.2 304.4L165.7 305.5L166.2 306.6L166.8 307.6L167.3 308.7L167.8 309.8L168.4 310.9L168.9 312.0L169.4 313.0L170.0 314.1L170.5 315.2L171.1 316.2L171.7 317.3L172.2 318.3L172.8 319.4L173.4 320.4L174.0 321.5L174.7 322.5L175.3 323.5L176.0 324.5L176.7 325.5L177.4 326.4L178.2 327.4L179.0 328.3L179.8 329.2L180.6 330.0L181.5 330.8L182.4 331.6L183.4 332.3L184.4 333.0L185.4 333.6L186.5 334.2L187.5 334.8L188.6 335.3L189.7 335.7L190.9 335.9L192.0 335.6L193.1 337.3L194.3 337.5L195.5 337.6L196.6 337.8L197.8 338.5L199.0 338.0L200.2 338.1L201.4 338.6L202.5 339.4L203.7 338.3L204.9 339.7L206.1 339.0L207.3 338.9L208.5 340.0L209.7 339.5L210.9 339.1L212.1 339.6L213.3 340.2L214.5 340.4L215.7 339.7L216.9 340.1L218.1 340.3L219.3 339.7L220.5 340.2L221.7 340.0L222.9 339.8L224.1 339.8L225.3 340.0L226.5 340.0L227.7 339.7L228.9 339.7L230.1 340.4L231.3 339.9L232.5 340.2L233.7 340.3L234.9 339.9L236.1 340.6L237.3 339.2L238.5 339.8L239.7 339.2L240.9 340.1L242.1 340.0L243.3 338.3L244.5 338.6L245.7 339.3L246.9 339.2L248.1 339.1L249.3 338.6L250.5 338.8L251.7 338.8L252.9 338.3L254.1 338.8L255.3 337.2L256.5 338.4L257.7 337.5L258.9 338.3L260.1 337.7L261.3 337.3L262.5 337.8L263.7 337.2L264.9 337.1L266.1 336.7L267.3 337.3L268.5 337.5L269.7 337.6L270.9 337.0L272.1 337.5L273.3 337.0L274.5 336.8L275.7 337.1L276.9 337.2L278.1 336.5L279.3 336.5L280.5 336.5L281.7 336.6L282.9 336.1L284.1 336.9L285.3 336.2L286.5 336.5L287.7 335.9L288.9 336.4L290.1 336.3L291.3 335.9L292.5 337.0L293.7 336.2L294.9 336.8L296.1 336.4L297.3 335.6L298.5 335.7L299.7 336.0L300.9 335.8L302.1 335.8L303.3 335.6L304.5 334.9L305.7 335.5L306.9 334.6L308.1 335.8L309.3 335.2L310.5 335.2L311.7 335.4L312.9 335.6L314.1 334.8L315.3 334.7L316.5 334.9L317.7 334.5L318.9 335.0L320.1 336.1L321.3 334.9L322.5 335.6L323.7 334.7L324.9 335.5L326.1 335.2L327.3 335.3L328.5 335.6L329.7 336.1L330.9 335.4L332.1 335.3L333.3 334.8L334.5 335.5L335.7 335.2L336.9 335.7L338.1 335.3L339.3 336.1L340.5 334.4L341.7 335.2L342.9 335.7L344.1 335.1L345.3 335.0L346.5 335.2L347.7 334.7L349.0 335.4L350.2 336.4L351.4 335.9L352.6 334.9L353.8 335.0L355.0 335.2L356.2 335.9L357.4 335.1L358.6 335.1L359.8 335.9L361.0 335.9L362.2 335.3L363.4 335.0L364.6 334.8L365.8 335.2L367.0 334.6L368.2 335.9L369.4 335.3L370.6 335.9L371.8 336.5L373.0 336.2L374.2 335.2L375.4 336.1L376.6 336.3L377.8 335.5L379.0 335.4L380.2 335.8L381.4 335.2L382.6 336.6L383.8 334.9L385.0 335.5L386.2 335.9L387.4 335.9L388.6 336.1L389.8 336.2L391.0 336.0L392.2 336.7L393.4 335.2L394.6 336.2L395.8 336.0L397.0 336.4L398.2 336.4L399.4 336.0L400.6 336.1L401.8 336.8L403.0 336.7L404.2 336.2L405.4 337.5L406.6 337.7L407.8 336.0L409.0 336.8L410.2 337.9L411.4 337.1L412.6 336.9L413.8 336.8L415.0 336.7L416.2 336.8L417.4 336.7L418.6 337.4L419.8 336.9L421.0 336.9L422.2 336.6L423.4 337.2L424.6 336.8L425.8 337.2L427.0 337.8L428.2 337.5L429.4 337.6L430.6 337.6L431.8 337.5L433.0 337.5L434.2 337.4L435.4 338.0L436.6 337.2L437.8 338.3L439.0 337.8L440.2 337.5L441.4 337.6L442.6 337.6L443.8 338.0L445.0 337.6L446.2 338.5L447.4 337.7L448.6 337.1L449.8 337.8L451.0 337.3L452.2 338.2L453.4 338.8L454.6 338.6L455.8 337.8L457.0 338.1L458.2 339.2L459.4 338.6L460.6 338.5L461.8 339.0L463.0 339.7L464.2 339.2L465.5 338.8L466.7 338.9L467.9 339.1L469.1 338.5L470.3 338.4L471.5 338.9L472.7 338.5L473.9 339.0L475.1 339.1L476.3 340.1L477.5 338.7L478.7 339.1L479.9 339.1L481.1 339.4L482.3 339.7L483.5 339.1L484.7 339.0L485.9 338.6L487.1 339.0L488.3 339.7L489.5 339.5L490.7 339.1L491.9 339.4L493.1 339.6L494.3 339.8L495.5 339.4L496.7 339.6L497.9 338.9L499.1 339.2L500.3 340.5L501.5 338.8L502.7 339.7L503.9 340.0L505.1 339.7L506.3 339.5L507.5 339.9L508.7 340.0L509.9 340.0L511.1 339.2L512.3 340.0L513.5 339.7L514.7 339.8L515.9 340.2L517.1 340.4L518.3 340.6L519.5 340.0L520.7 340.6L521.9 340.7L523.1 340.7L524.3 340.9L525.5 340.2L526.7 340.2L527.9 340.7L529.1 340.3" stroke="#000000"/></g><path d="M74.50 403.8v-4.4M74.50 16.4v4.4M165.44 403.8v-4.4M165.44 16.4v4.4M256.38 403.8v-4.4M256.38 16.4v4.4M347.32 403.8v-4.4M347.32 16.4v4.4M438.26 403.8v-4.4M438.26 16.4v4.4M529.20 403.8v-4.4M529.20 16.4v4.4M74.5 16.40h4.4M529.2 16.40h-4.4M74.5 71.74h4.4M529.2 71.74h-4.4M74.5 127.09h4.4M529.2 127.09h-4.4M74.5 182.43h4.4M529.2 182.43h-4.4M74.5 237.77h4.4M529.2 237.77h-4.4M74.5 293.11h4.4M529.2 293.11h-4.4M74.5 348.46h4.4M529.2 348.46h-4.4M74.5 403.80h4.4M529.2 403.80h-4.4" stroke="#262626" stroke-width="1.3" fill="none"/><rect x="74.5" y="16.4" width="454.70" height="387.40" fill="none" stroke="#262626" stroke-width="1.4"/><g class="tk"><text x="74.50" y="428.5" text-anchor="middle">0</text><text x="165.44" y="428.5" text-anchor="middle">2</text><text x="256.38" y="428.5" text-anchor="middle">4</text><text x="347.32" y="428.5" text-anchor="middle">6</text><text x="438.26" y="428.5" text-anchor="middle">8</text><text x="529.20" y="428.5" text-anchor="middle">10</text><text x="69.4" y="24.30" text-anchor="end">20</text><text x="69.4" y="79.64" text-anchor="end">10</text><text x="69.4" y="134.99" text-anchor="end">0</text><text x="69.4" y="190.33" text-anchor="end">-10</text><text x="69.4" y="245.67" text-anchor="end">-20</text><text x="69.4" y="301.01" text-anchor="end">-30</text><text x="69.4" y="356.36" text-anchor="end">-40</text><text x="69.4" y="411.70" text-anchor="end">-50</text></g><text class="tk" x="482.6" y="461" style="font-size:23px">×</text><text class="tk" x="498.6" y="458.3">10</text><text class="tk sup" x="519.4" y="449.6">4</text><text class="lbl" x="301.8" y="456.5" text-anchor="middle">Iterations</text><text class="lbl" transform="translate(32.5,210) rotate(-90)" text-anchor="middle">NMSD(dB)</text><rect x="245.5" y="33.5" width="266.9" height="135.2" fill="#fff" stroke="#262626" stroke-width="1.4"/><line x1="252.6" y1="49.9" x2="326" y2="49.9" stroke="#00ffff" stroke-width="5"/><text class="lg" x="330.2" y="57.5">CSS-APASE(c=1.5)</text><line x1="252.6" y1="75.7" x2="326" y2="75.7" stroke="#00ff00" stroke-width="5"/><text class="lg" x="330.2" y="83.3">CSS-APASE(c=2)</text><line x1="252.6" y1="101.5" x2="326" y2="101.5" stroke="#ff0000" stroke-width="5"/><text class="lg" x="330.2" y="109.1">CSS-APASE(c=2.5)</text><line x1="252.6" y1="127.3" x2="326" y2="127.3" stroke="#ff00ff" stroke-width="5"/><text class="lg" x="330.2" y="134.9">CSS-APASE(c=3)</text><line x1="252.6" y1="153.1" x2="326" y2="153.1" stroke="#000000" stroke-width="5"/><text class="lg" x="330.2" y="160.7">CSS-APASE(c=3.5)</text><text class="cap" x="260" y="492.7" style="font-size:27px">(</text><text class="cap" x="268.3" y="493" font-weight="bold">a</text><text class="cap" x="280.6" y="492.7" style="font-size:27px">)</text><g stroke="#dcdcdc" stroke-width="1.1"><line x1="185.75" y1="513.5" x2="185.75" y2="859.8"/><line x1="299.90" y1="513.5" x2="299.90" y2="859.8"/><line x1="414.05" y1="513.5" x2="414.05" y2="859.8"/><line x1="71.6" y1="571.22" x2="528.2" y2="571.22"/><line x1="71.6" y1="628.93" x2="528.2" y2="628.93"/><line x1="71.6" y1="686.65" x2="528.2" y2="686.65"/><line x1="71.6" y1="744.37" x2="528.2" y2="744.37"/><line x1="71.6" y1="802.08" x2="528.2" y2="802.08"/></g><path d="M71.60 859.8v-4.4M71.60 513.5v4.4M185.75 859.8v-4.4M185.75 513.5v4.4M299.90 859.8v-4.4M299.90 513.5v4.4M414.05 859.8v-4.4M414.05 513.5v4.4M528.20 859.8v-4.4M528.20 513.5v4.4M71.6 513.50h4.4M528.2 513.50h-4.4M71.6 571.22h4.4M528.2 571.22h-4.4M71.6 628.93h4.4M528.2 628.93h-4.4M71.6 686.65h4.4M528.2 686.65h-4.4M71.6 744.37h4.4M528.2 744.37h-4.4M71.6 802.08h4.4M528.2 802.08h-4.4M71.6 859.80h4.4M528.2 859.80h-4.4" stroke="#262626" stroke-width="1.3" fill="none"/><rect x="71.6" y="513.5" width="456.60" height="346.30" fill="none" stroke="#262626" stroke-width="1.4"/><path d="M71.60 537.74 L185.75 841.33 L299.90 824.02 L414.05 771.78 L528.20 767.45" fill="none" stroke="#0072bd" stroke-width="5" stroke-dasharray="17.2 17.9" stroke-linejoin="miter"/><circle cx="71.60" cy="537.74" r="7.1" fill="none" stroke="#0072bd" stroke-width="5.4"/><circle cx="185.75" cy="841.33" r="7.1" fill="none" stroke="#0072bd" stroke-width="5.4"/><circle cx="299.90" cy="824.02" r="7.1" fill="none" stroke="#0072bd" stroke-width="5.4"/><circle cx="414.05" cy="771.78" r="7.1" fill="none" stroke="#0072bd" stroke-width="5.4"/><circle cx="528.20" cy="767.45" r="7.1" fill="none" stroke="#0072bd" stroke-width="5.4"/><g class="tk"><text x="71.60" y="884.5" text-anchor="middle">1.5</text><text x="185.75" y="884.5" text-anchor="middle">2</text><text x="299.90" y="884.5" text-anchor="middle">2.5</text><text x="414.05" y="884.5" text-anchor="middle">3</text><text x="528.20" y="884.5" text-anchor="middle">3.5</text><text x="66.2" y="521.40" text-anchor="end">-28</text><text x="66.2" y="579.12" text-anchor="end">-30</text><text x="66.2" y="636.83" text-anchor="end">-32</text><text x="66.2" y="694.55" text-anchor="end">-34</text><text x="66.2" y="752.27" text-anchor="end">-36</text><text x="66.2" y="809.98" text-anchor="end">-38</text><text x="66.2" y="867.70" text-anchor="end">-40</text></g><text class="lblb" x="299.6" y="910" text-anchor="middle">c</text><text class="lblb" transform="translate(29.8,687.5) rotate(-90)" text-anchor="middle">EMSE(dB)</text><text class="cap" x="273.8" y="955.4" style="font-size:27px">(</text><text class="cap" x="282.1" y="954.8" font-weight="bold" style="font-size:28px">b</text><text class="cap" x="297.9" y="955.4" style="font-size:27px">)</text></svg>
</body></html>
